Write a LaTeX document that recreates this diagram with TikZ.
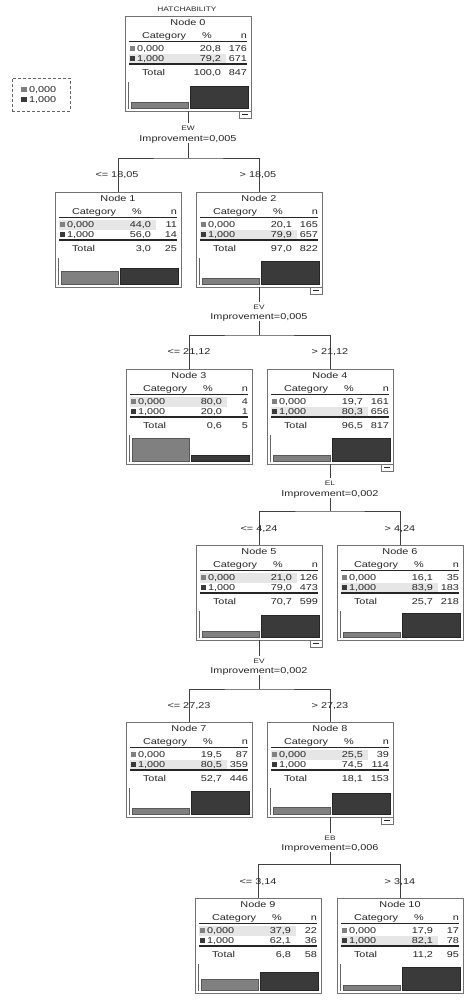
\documentclass[tikz,border=0pt]{standalone}
\usepackage{fontspec}
\setmainfont{Liberation Sans}[FakeStretch=1.28]
\definecolor{cA}{HTML}{808080}
\definecolor{cB}{HTML}{3A3A3A}
\definecolor{hlc}{HTML}{E6E6E6}
\tikzset{
  every node/.style={inner sep=0pt, outer sep=0pt, font=\fontsize{8.5}{10}\selectfont, text=black!85},
  tbox/.style={draw=black!55, line width=0.8pt, minimum width=126pt, minimum height=95pt, anchor=north west},
  rulel/.style={draw=black!85, line width=1.3pt},
  tline/.style={draw=black!75, line width=0.8pt},
  smalltxt/.style={font=\fontsize{6.5}{8}\selectfont},
  barA/.style={fill=cA, draw=black!65, line width=0.5pt},
  barB/.style={fill=cB, draw=black!85, line width=0.5pt},
}
% #1 num, #2 p0, #3 n0, #4 p1, #5 n1, #6 ptot, #7 ntot, #8 h0, #9 h1
\newcommand\boxbody[9]{%
 \begin{scope}[shift={(n#1.north west)}]
 \node[anchor=base] (n#1t) at (63,9.5) {Node #1};
 \node[anchor=base west] (n#1c) at (17,22.5) {Category};
 \node[anchor=base] (n#1p) at (82,22.5) {\%};
 \node[anchor=base east] (n#1n) at (122,22.5) {n};
 \draw[rulel] (4,25.5) -- (122,25.5);
 \fill[cA] (5,29.5) rectangle (10,34.5);
 \node[anchor=base west] (n#1a) at (12,35) {0,000};
 \node[anchor=base east] (n#1ap) at (96,35) {#2};
 \node[anchor=base east] (n#1an) at (122,35) {#3};
 \fill[cB] (5,40) rectangle (10,45);
 \node[anchor=base west] (n#1b) at (12,45.5) {1,000};
 \node[anchor=base east] (n#1bp) at (96,45.5) {#4};
 \node[anchor=base east] (n#1bn) at (122,45.5) {#5};
 \draw[rulel] (4,48) -- (122,48);
 \node[anchor=base west] (n#1s) at (17,59) {Total};
 \node[anchor=base east] (n#1sp) at (96,59) {#6};
 \node[anchor=base east] (n#1sn) at (122,59) {#7};
 \draw[black!60, line width=0.8pt] (3,66) -- (3,92.5);
 \filldraw[barA] (6,92) rectangle (63,{92-0.28*#8});
 \filldraw[barB] (65,92) rectangle (123,{92-0.28*#9});
 \end{scope}}
\newcommand\hlrow[2]{\begin{scope}[shift={(n#1.north west)}]
 \fill[hlc] (4,{17.5+10*#2}) rectangle (101,{27.5+10*#2});\end{scope}}
\newcommand\minusbox[1]{%
 \node[draw=black!55, line width=0.6pt, minimum width=12pt, minimum height=7pt, anchor=north east] (m#1) at (n#1.south east) {};
 \draw[black!85, line width=0.8pt] ([xshift=3pt]m#1.west) -- ([xshift=-3pt]m#1.east);}
\begin{document}
\begin{tikzpicture}[x=1pt,y=-1pt]
\useasboundingbox (0,0) rectangle (474,1001);
\fill[white] (0,0) rectangle (474,1001);

% legend
\node[draw=black!60, dash pattern=on 3pt off 2pt, line width=0.7pt, minimum width=58pt, minimum height=33pt, anchor=north west] (leg) at (12,78) {};
\fill[cA] (21,86.5) rectangle (27,91.5);
\node[anchor=base west] (legA) at (29,92) {0,000};
\fill[cB] (21,96.5) rectangle (27,101.5);
\node[anchor=base west] (legB) at (29,102) {1,000};

% boxes
\node[smalltxt] (title) at (187,9) {HATCHABILITY};
\node[tbox] (n0) at (125,16) {};
\node[tbox] (n1) at (55,192) {};
\node[tbox] (n2) at (196,192) {};
\node[tbox] (n3) at (126,369) {};
\node[tbox] (n4) at (267,369) {};
\node[tbox] (n5) at (196,545) {};
\node[tbox] (n6) at (337,545) {};
\node[tbox] (n7) at (126,722) {};
\node[tbox] (n8) at (267,722) {};
\node[tbox] (n9) at (195,898) {};
\node[tbox] (n10) at (337,898) {};

\hlrow{0}{2}\hlrow{1}{1}\hlrow{2}{2}\hlrow{3}{1}\hlrow{4}{2}\hlrow{5}{1}
\hlrow{6}{2}\hlrow{7}{2}\hlrow{8}{1}\hlrow{9}{1}\hlrow{10}{2}

\boxbody{0}{20,8}{176}{79,2}{671}{100,0}{847}{20.8}{79.2}
\boxbody{1}{44,0}{11}{56,0}{14}{3,0}{25}{44.0}{56.0}
\boxbody{2}{20,1}{165}{79,9}{657}{97,0}{822}{20.1}{79.9}
\boxbody{3}{80,0}{4}{20,0}{1}{0,6}{5}{80.0}{20.0}
\boxbody{4}{19,7}{161}{80,3}{656}{96,5}{817}{19.7}{80.3}
\boxbody{5}{21,0}{126}{79,0}{473}{70,7}{599}{21.0}{79.0}
\boxbody{6}{16,1}{35}{83,9}{183}{25,7}{218}{16.1}{83.9}
\boxbody{7}{19,5}{87}{80,5}{359}{52,7}{446}{19.5}{80.5}
\boxbody{8}{25,5}{39}{74,5}{114}{18,1}{153}{25.5}{74.5}
\boxbody{9}{37,9}{22}{62,1}{36}{6,8}{58}{37.9}{62.1}
\boxbody{10}{17,9}{17}{82,1}{78}{11,2}{95}{17.9}{82.1}

\minusbox{0}\minusbox{2}\minusbox{4}\minusbox{5}\minusbox{8}

% split 0
\node[smalltxt] (v0) at (188,128) {EW};
\node (i0) at (188,139) {Improvement=0,005};
\coordinate (j0) at (188,158);
\draw[tline] (n0.south) -- ([yshift=3pt]v0.north);
\draw[tline] (i0.south) -- (j0);
\draw[tline] (n1.north) |- (j0) -| (n2.north);
\node (l1) at (117,175) {<= 18,05};
\node (l2) at (258,175) {> 18,05};

% split 2
\node[smalltxt] (v2) at (259,307) {EV};
\node (i2) at (259,317) {Improvement=0,005};
\coordinate (j2) at (259,335);
\draw[tline] (n2.south) -- ([yshift=3pt]v2.north);
\draw[tline] (i2.south) -- (j2);
\draw[tline] (n3.north) |- (j2) -| (n4.north);
\node (l3) at (189,352) {<= 21,12};
\node (l4) at (330,352) {> 21,12};

% split 4
\node[smalltxt] (v4) at (330,483) {EL};
\node (i4) at (330,494) {Improvement=0,002};
\coordinate (j4) at (330,511);
\draw[tline] (n4.south) -- ([yshift=3pt]v4.north);
\draw[tline] (i4.south) -- (j4);
\draw[tline] (n5.north) |- (j4) -| (n6.north);
\node (l5) at (259,529) {<= 4,24};
\node (l6) at (400,529) {> 4,24};

% split 5
\node[smalltxt] (v5) at (259,661) {EV};
\node (i5) at (259,671) {Improvement=0,002};
\coordinate (j5) at (259,689);
\draw[tline] (n5.south) -- ([yshift=3pt]v5.north);
\draw[tline] (i5.south) -- (j5);
\draw[tline] (n7.north) |- (j5) -| (n8.north);
\node (l7) at (189,706) {<= 27,23};
\node (l8) at (330,706) {> 27,23};

% split 8
\node[smalltxt] (v8) at (330,838) {EB};
\node (i8) at (330,848) {Improvement=0,006};
\coordinate (j8) at (330,864);
\draw[tline] (n8.south) -- ([yshift=3pt]v8.north);
\draw[tline] (i8.south) -- (j8);
\draw[tline] (n9.north) |- (j8) -| (n10.north);
\node (l9) at (258,882) {<= 3,14};
\node (l10) at (400,882) {> 3,14};
\end{tikzpicture}
\end{document}
